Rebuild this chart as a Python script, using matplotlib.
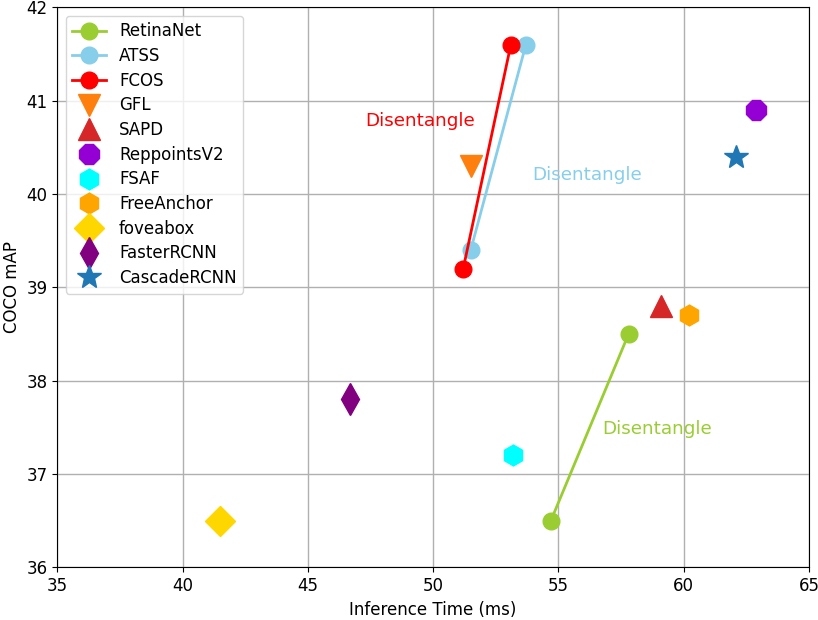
import matplotlib
matplotlib.use("Agg")
import matplotlib.pyplot as plt

# paired methods: baseline -> disentangled
retina_x = [54.7, 57.8]
retina_y = [36.5, 38.5]
atss_x = [51.5, 53.7]
atss_y = [39.4, 41.6]
fcos_x = [51.2, 53.1]
fcos_y = [39.2, 41.6]

# single methods
others = ["GFL", "SAPD", "ReppointsV2", "FSAF", "FreeAnchor",
          "foveabox", "FasterRCNN", "CascadeRCNN"]
others_x = [51.5, 59.1, 62.9, 53.2, 60.2, 41.5, 46.7, 62.1]
others_y = [40.3, 38.8, 40.9, 37.2, 38.7, 36.5, 37.8, 40.4]
others_marker = ["v", "^", "8", "h", "h", "D", "d", "*"]
others_color = ["tab:orange", "tab:red", "darkviolet", "cyan", "orange",
                "gold", "purple", "tab:blue"]
others_size = [16, 16, 15, 15, 15, 15, 16, 18]

fig = plt.figure(figsize=(8.18, 6.2), dpi=100)
ax = fig.add_axes([0.07, 0.085, 0.919, 0.903])

ax.plot(retina_x, retina_y, "-o", color="yellowgreen", lw=2, ms=12, label="RetinaNet")
ax.plot(atss_x, atss_y, "-o", color="skyblue", lw=2, ms=12, label="ATSS")
ax.plot(fcos_x, fcos_y, "-o", color="red", lw=2, ms=12, label="FCOS")

for name, x, y, m, c, s in zip(others, others_x, others_y, others_marker,
                               others_color, others_size):
    ax.plot(x, y, linestyle="none", marker=m, color=c, ms=s, label=name)

ax.text(47.3, 40.78, "Disentangle", color="red", fontsize=13.2, va="center")
ax.text(53.95, 40.2, "Disentangle", color="skyblue", fontsize=13.2, va="center")
ax.text(56.75, 37.48, "Disentangle", color="yellowgreen", fontsize=13.2, va="center")

ax.set_xlim(35, 65)
ax.set_ylim(36, 42)
ax.set_xticks([35, 40, 45, 50, 55, 60, 65])
ax.set_yticks([36, 37, 38, 39, 40, 41, 42])
ax.tick_params(labelsize=12)
ax.set_xlabel("Inference Time (ms)", fontsize=12)
ax.set_ylabel("COCO mAP", fontsize=12)
ax.grid(True, color="#b0b0b0", lw=1)
ax.set_axisbelow(True)
ax.legend(loc="upper left", fontsize=12, labelspacing=0.4)

fig.savefig("out.png", dpi=100)
